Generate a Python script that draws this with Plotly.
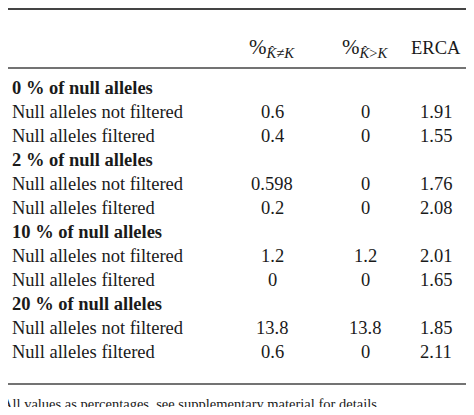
import plotly.graph_objects as go

groups = ["0 % of null alleles", "2 % of null alleles", "10 % of null alleles", "20 % of null alleles"]
row_labels = ["Null alleles not filtered", "Null alleles filtered"]
pct_neq = [["0.6", "0.4"], ["0.598", "0.2"], ["1.2", "0"], ["13.8", "0.6"]]
pct_gt = [["0", "0"], ["0", "0"], ["1.2", "0"], ["13.8", "0"]]
erca = [["1.91", "1.55"], ["1.76", "2.08"], ["2.01", "1.65"], ["1.85", "2.11"]]
headers = ["%<sub><i>K̂</i>≠<i>K</i></sub>", "%<sub><i>K̂</i>&gt;<i>K</i></sub>", "ERCA"]
footnote = "All values as percentages, see supplementary material for details."

OFF = 8
W, H = 474 - 2 * OFF, 415 - 2 * OFF
FONT = "Liberation Serif"
fig = go.Figure()
ann = []
def px(x): return (x - OFF) / W
def py(y): return 1 - (y - OFF) / H
def add(text, x, y, anchor="left", size=18.5, bold=False):
    ann.append(dict(text=f"<b>{text}</b>" if bold else text, x=px(x), y=py(y), xref="paper", yref="paper",
                    xanchor=anchor, yanchor="middle", showarrow=False,
                    font=dict(family=FONT, size=size, color="#1a1a1a")))

colx = [272, 365, 436]
for h, x in zip(headers, colx):
    add(h, x, 48, "center", 21 if h != "ERCA" else 18.5)
y = 88
for g, a, b, c in zip(groups, pct_neq, pct_gt, erca):
    add(g, 10, y, bold=True)
    y += 24
    for i, lab in enumerate(row_labels):
        add(lab, 10, y)
        add(a[i], colx[0], y, "center")
        add(b[i], colx[1], y, "center")
        add(c[i], colx[2], y, "center")
        y += 23.5
    y += 1
add(footnote, 0, 404, size=14.5)

shapes = []
for yy, w in [(9, 2), (68, 1.5), (384, 1.5)]:
    shapes.append(dict(type="line", xref="paper", yref="paper", x0=px(0), x1=px(474), y0=py(yy), y1=py(yy),
                       line=dict(color="#444", width=w)))

fig.update_layout(width=W, height=H, margin=dict(l=0, r=0, t=0, b=0),
                  paper_bgcolor="white", plot_bgcolor="white",
                  xaxis=dict(visible=False), yaxis=dict(visible=False),
                  annotations=ann, shapes=shapes)
fig.write_html("out.html")
